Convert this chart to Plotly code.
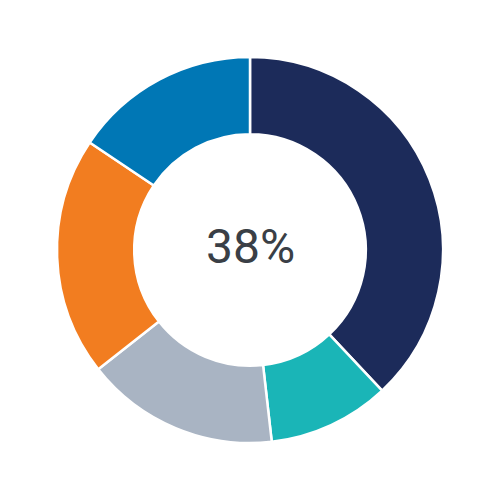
import plotly.graph_objects as go

labels = ["A", "B", "C", "D", "E"]
values = [38, 10.2, 16.2, 20, 15.6]
colors = ["#1c2b5a", "#1ab5b7", "#a9b4c3", "#f27d20", "#0077b5"]
center_text = "38%"

fig = go.Figure(go.Pie(
    labels=labels,
    values=values,
    hole=0.6,
    sort=False,
    direction="clockwise",
    rotation=0,
    marker=dict(colors=colors, line=dict(color="white", width=2.5)),
    textinfo="none",
    hoverinfo="label+percent",
    showlegend=False,
))

fig.update_layout(
    width=484, height=484,
    margin=dict(l=49, r=49, t=49, b=49),
    paper_bgcolor="white",
    plot_bgcolor="white",
    annotations=[dict(text=center_text, x=0.5, y=0.5, xref="paper", yref="paper",
                      showarrow=False, yshift=4,
                      font=dict(family="Roboto", size=48, color="#3a3f46"))],
)

fig.write_html("out.html")
